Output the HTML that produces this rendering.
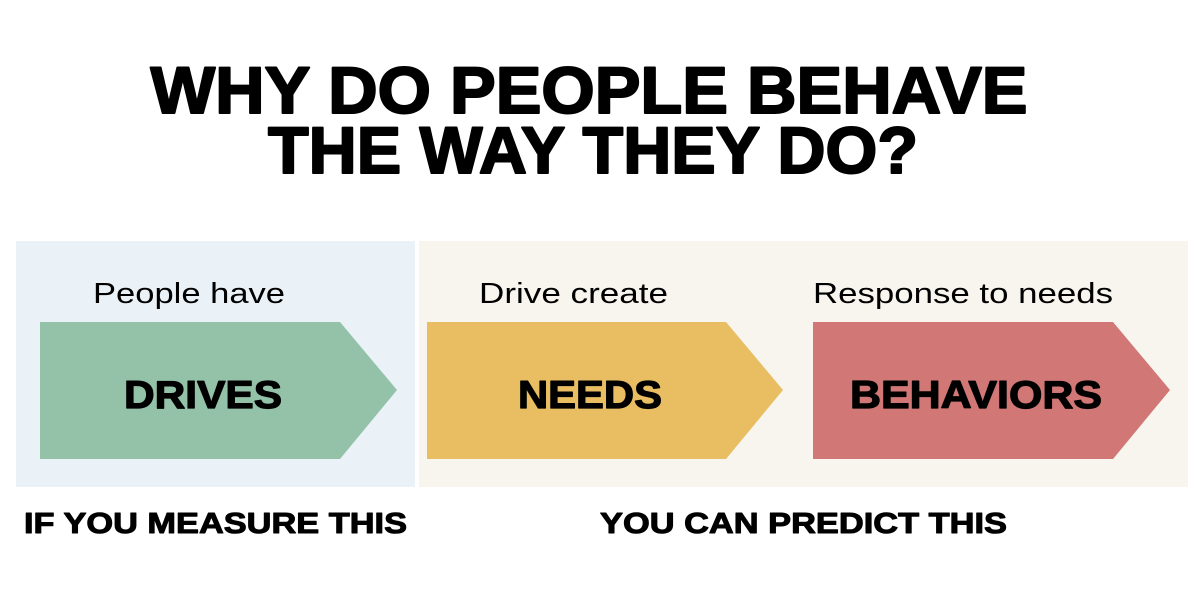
<!DOCTYPE html>
<html><head><meta charset="utf-8"><style>html,body{margin:0;padding:0;background:#fff;width:1200px;height:600px;overflow:hidden}</style></head>
<body>
<svg width="1200" height="600" viewBox="0 0 1200 600" xmlns="http://www.w3.org/2000/svg" font-family="Liberation Sans, sans-serif">
<rect width="1200" height="600" fill="#fff"/>
<g stroke="#000" stroke-width="2" stroke-linejoin="round">
<text x="589" y="113" font-size="66" font-weight="bold" text-anchor="middle" textLength="877" lengthAdjust="spacingAndGlyphs">WHY DO PEOPLE BEHAVE</text>
<text x="593" y="173" font-size="66" font-weight="bold" text-anchor="middle" textLength="650" lengthAdjust="spacingAndGlyphs">THE WAY THEY DO?</text>
</g>
<rect x="16" y="241" width="399" height="246" fill="#eaf2f7"/>
<rect x="419" y="241" width="769" height="246" fill="#f7f5ee"/>
<polygon points="40,322 340,322 397,390 340,459 40,459" fill="#93c2a8"/>
<polygon points="427,322 726,322 783,390 726,459 427,459" fill="#e9bd62"/>
<polygon points="813,322 1113,322 1170,390 1113,459 813,459" fill="#d17776"/>
<text x="93" y="303" font-size="29" textLength="192" lengthAdjust="spacingAndGlyphs">People have</text>
<text x="479" y="303" font-size="29" textLength="189" lengthAdjust="spacingAndGlyphs">Drive create</text>
<text x="813" y="303" font-size="29" textLength="300" lengthAdjust="spacingAndGlyphs">Response to needs</text>
<g stroke="#000" stroke-width="1.2" stroke-linejoin="round">
<text x="124" y="408" font-size="39" font-weight="bold" textLength="158" lengthAdjust="spacingAndGlyphs">DRIVES</text>
<text x="518" y="408" font-size="39" font-weight="bold" textLength="144" lengthAdjust="spacingAndGlyphs">NEEDS</text>
<text x="850" y="408" font-size="39" font-weight="bold" textLength="252" lengthAdjust="spacingAndGlyphs">BEHAVIORS</text>
</g>
<g stroke="#000" stroke-width="1" stroke-linejoin="round">
<text x="24" y="533" font-size="29" font-weight="bold" textLength="383" lengthAdjust="spacingAndGlyphs">IF YOU MEASURE THIS</text>
<text x="600" y="533" font-size="29" font-weight="bold" textLength="407" lengthAdjust="spacingAndGlyphs">YOU CAN PREDICT THIS</text>
</g>
</svg>
</body></html>
